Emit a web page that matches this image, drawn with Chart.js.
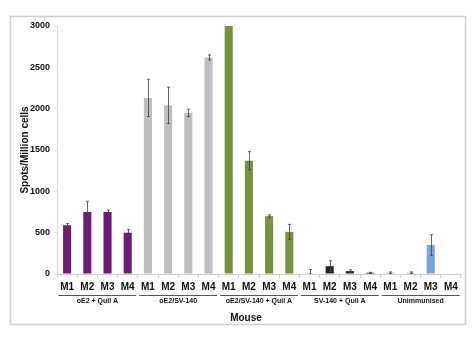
<!DOCTYPE html>
<html><head><meta charset="utf-8">
<script src="https://cdn.jsdelivr.net/npm/chart.js@4.4.1/dist/chart.umd.min.js"></script>
<style>html,body{margin:0;padding:0;background:#fff}#w{width:474px;height:355px}</style>
</head><body><div id="w"><canvas id="c"></canvas></div>
<script>
const categories = ["M1","M2","M3","M4","M1","M2","M3","M4","M1","M2","M3","M4","M1","M2","M3","M4","M1","M2","M3","M4"];
const values = [590, 750, 750, 500, 2130, 2040, 1950, 2620, 3000, 1370, 700, 510, 5, 95, 35, 15, 15, 15, 350, 0];
const errors = [20, 130, 25, 40, 225, 220, 45, 30, 0, 110, 15, 90, 50, 65, 15, 5, 10, 10, 125, 0];
const groups = ["oE2 + Quil A", "oE2/SV-140", "oE2/SV-140 + Quil A", "SV-140 + Quil A", "Unimmunised"];
const groupColors = ["#6B1D72", "#BEBEBE", "#76923C", "#262626", "#79A5DC"];
const yTicks = [0, 500, 1000, 1500, 2000, 2500, 3000];
const xTitle = "Mouse";
const yTitle = "Spots/Million cells";

const barColors = values.map((v, i) => groupColors[Math.floor(i / 4)]);

const framePlugin = {
  id: 'frame',
  beforeDraw(chart) {
    const ctx = chart.ctx;
    ctx.save();
    ctx.strokeStyle = '#cfcfcf';
    ctx.lineWidth = 1.5;
    ctx.strokeRect(10.5, 16.5, 455, 308);
    ctx.restore();
  }
};

const errorPlugin = {
  id: 'errs',
  afterDatasetsDraw(chart) {
    const ctx = chart.ctx, xs = chart.scales.x, ys = chart.scales.y, a = chart.chartArea;
    ctx.save();
    ctx.beginPath();
    ctx.rect(a.left, a.top, a.right - a.left, a.bottom - a.top);
    ctx.clip();
    ctx.strokeStyle = '#404040';
    ctx.lineWidth = 0.8;
    values.forEach((v, i) => {
      const e = errors[i];
      if (!e) return;
      const x = Math.round(xs.getPixelForValue(i)) + 0.5;
      const t = ys.getPixelForValue(v + e), b = ys.getPixelForValue(Math.max(0, v - e));
      ctx.beginPath();
      ctx.moveTo(x, t); ctx.lineTo(x, b);
      ctx.moveTo(x - 1.5, t); ctx.lineTo(x + 1.5, t);
      ctx.moveTo(x - 1.5, b); ctx.lineTo(x + 1.5, b);
      ctx.stroke();
    });
    ctx.restore();
  }
};

const groupPlugin = {
  id: 'groups',
  afterDraw(chart) {
    const ctx = chart.ctx, xs = chart.scales.x;
    const half = (xs.getPixelForValue(1) - xs.getPixelForValue(0)) / 2;
    ctx.save();
    groups.forEach((g, k) => {
      const l = xs.getPixelForValue(k * 4) - half + 1.5;
      const r = xs.getPixelForValue(k * 4 + 3) + half - 1.5;
      ctx.strokeStyle = '#555';
      ctx.lineWidth = 1;
      ctx.beginPath();
      ctx.moveTo(l, 295.5); ctx.lineTo(r, 295.5);
      ctx.stroke();
      ctx.fillStyle = '#111';
      ctx.font = 'bold 7px "Liberation Sans", Arial, sans-serif';
      ctx.textAlign = 'center';
      ctx.textBaseline = 'middle';
      ctx.fillText(g, (l + r) / 2, 301);
    });
    ctx.font = 'bold 10px "Liberation Sans", Arial, sans-serif';
    ctx.textAlign = 'center';
    ctx.textBaseline = 'middle';
    ctx.fillStyle = '#111';
    ctx.fillText(xTitle, 246, 318);
    ctx.restore();
  }
};

new Chart(document.getElementById('c'), {
  type: 'bar',
  data: {
    labels: categories,
    datasets: [{ data: values, backgroundColor: barColors, barPercentage: 0.4, categoryPercentage: 1 }]
  },
  options: {
    responsive: true,
    maintainAspectRatio: false,
    animation: false,
    devicePixelRatio: 1,
    layout: { padding: { left: 19, top: 26, right: 13, bottom: 59 } },
    plugins: { legend: { display: false }, tooltip: { enabled: false } },
    scales: {
      x: {
        offset: true,
        grid: { drawOnChartArea: false, offset: true, tickLength: 4, color: '#d0d0d0' },
        border: { color: '#d0d0d0' },
        ticks: { color: '#111', maxRotation: 0, autoSkip: false, padding: 3,
                 font: { family: '"Liberation Sans", Arial, sans-serif', size: 10, weight: 'bold' } }
      },
      y: {
        min: 0, max: 3000,
        afterBuildTicks(axis) { axis.ticks = yTicks.map(v => ({ value: v })); },
        grid: { drawOnChartArea: false, tickLength: 3, color: '#e0e0e0' },
        border: { color: '#d8d8d8' },
        ticks: { color: '#111', padding: 4, callback: v => String(v),
                 font: { family: '"Liberation Sans", Arial, sans-serif', size: 9, weight: 'bold' } },
        title: { display: true, text: yTitle, color: '#111', padding: { top: 0, bottom: -5 },
                 font: { family: '"Liberation Sans", Arial, sans-serif', size: 10, weight: 'bold' } }
      }
    }
  },
  plugins: [framePlugin, errorPlugin, groupPlugin]
});
</script>
</body></html>
